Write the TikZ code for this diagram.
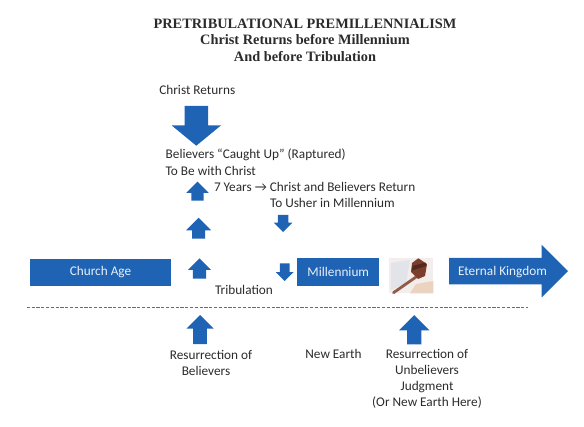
\documentclass[tikz,border=0pt]{standalone}
\usepackage{fontspec}
\setmainfont{Carlito}
\newfontfamily\titlefont{Liberation Serif}
\usepackage{xcolor}
\usetikzlibrary{arrows.meta,positioning,calc,shapes.arrows}
\definecolor{blockblue}{HTML}{1F63B4}
\definecolor{inktext}{HTML}{2B2B2B}
\definecolor{gavelhead}{HTML}{7C3E2B}
\definecolor{gavelband}{HTML}{4F2A1F}
\definecolor{gavelpaper}{HTML}{F3EDEC}
\definecolor{gavelshade}{HTML}{E3E3EA}
\definecolor{gavelblock}{HTML}{EBD3C0}
\begin{document}
\begin{tikzpicture}[x=0.75pt,y=-0.75pt, every node/.style={font=\fontsize{9.95}{12}\selectfont,text=inktext,inner sep=0pt,outer sep=0pt},
    heading/.style={font=\titlefont\bfseries\fontsize{10.75}{12.4}\selectfont,align=center},
    lbl/.style={anchor=west},
    stack/.style={align=center,anchor=north},
    block/.style={fill=blockblue,text=white!90!blockblue,anchor=north west},
    blockarrow/.style={single arrow,fill=blockblue,anchor=tail,single arrow head indent=0pt,minimum width=0pt}]
    \useasboundingbox (0,0) rectangle (584,427);
    \node[heading] (title) at (305,40) {PRETRIBULATIONAL PREMILLENNIALISM\\Christ Returns before Millennium\\And before Tribulation};
    % blocks on the time line
    \node[block,minimum width=105.75pt,minimum height=20.25pt] (church) at (30,259) {Church Age};
    \node[block,minimum width=61.5pt,minimum height=21pt] (millennium) at (297.3,257.7) {Millennium};
    \node[blockarrow,minimum height=89.25pt,inner ysep=9.75pt,single arrow head extend=9.75pt] (eternal) at (449,271.2) {};
    \node[text=white!90!blockblue] (eternaltxt) at (502.5,272) {Eternal Kingdom};
    % up and down arrows
    \foreach \name/\x/\y/\rot/\len/\shaft/\head in {%
      up1/197.5/200.7/90/14.25/4.35/3.75,
      up2/198.6/238.7/90/15.75/4.75/4.5,
      up3/199.5/278.7/90/15.3/4.75/3.75,
      up4/200/344/90/21.75/5/5.1,
      up5/414.3/344.3/90/21.9/5.1/6.1,
      down1/283.2/215/-90/12.75/3.75/3,
      down2/284.7/263.3/-90/13.3/3.5/3}{
      \node[blockarrow,rotate=\rot,minimum height=\len pt,inner ysep=\shaft pt,single arrow head extend=\head pt] (\name) at (\x,\y) {};
    }
    \node[blockarrow,rotate=-90,minimum height=29.8pt,inner ysep=8.6pt,single arrow head extend=9.75pt,single arrow tip angle=101] (bigdown) at (196.3,106) {};
    % texts
    \node[lbl] (returns) at (159.3,89.5) {Christ Returns};
    \node[lbl] (caught) at (165.7,154.5) {Believers “Caught Up” (Raptured)};
    \node[lbl] (withchrist) at (165.7,170.5) {To Be with Christ};
    \node[lbl] (years) at (214,186.5) {7 Years → Christ and Believers Return};
    \node[lbl] (usher) at (270,202.5) {To Usher in Millennium};
    \node[lbl] (tribulation) at (215,290) {Tribulation};
    \node (resbel) at (211,355) {Resurrection of};
    \node (believers) at (206,371) {Believers};
    \node (newearth) at (333.5,354) {New Earth};
    \node[stack] (resunbel) at (427,349) {Resurrection of\\Unbelievers\\Judgment\\(Or New Earth Here)};
    % dashed line
    \coordinate (dashl) at (26.7,307.2);
    \coordinate (dashr) at (528,307.2);
    \draw[gray!85!black,line width=0.45pt,dash pattern=on 2.4pt off 1.2pt] (dashl) -- (dashr);
    % gavel picture
    \fill[gavelpaper] (389.3,258.3) rectangle (433.3,293.3);
    \fill[gavelshade] (391,263) -- (410,260) -- (406,283) -- (391,290) -- cycle;
    \fill[gavelblock] (416,284) -- (433.3,281) -- (433.3,293.3) -- (410,293.3) -- cycle;
    \draw[gavelhead!85!white,line width=2.1pt,line cap=round] (416,277) -- (393.5,292.7);
    \fill[gavelhead] (412,263) -- (418.3,258.3) -- (427,264) -- (425,276) -- (418,279) -- (411,272) -- cycle;
    \fill[gavelband] (412.5,266) -- (425.5,262.5) -- (426,266) -- (412,270.5) -- cycle;
\end{tikzpicture}
\end{document}
